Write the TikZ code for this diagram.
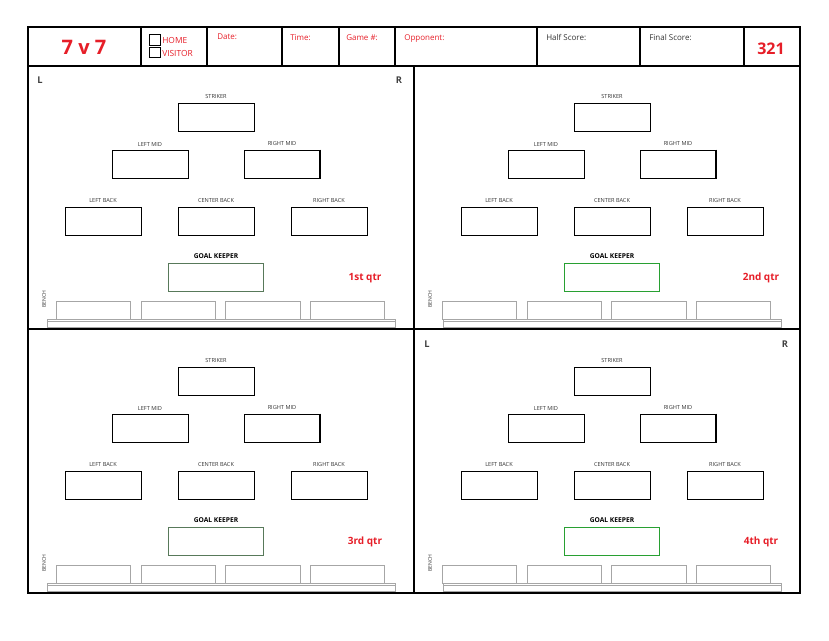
\documentclass[tikz,border=0pt]{standalone}
\usepackage{fontspec}
\setmainfont{Open Sans}
\usetikzlibrary{positioning}
\definecolor{formred}{RGB}{230,30,40}
\definecolor{keepgreen}{RGB}{40,160,50}
\tikzset{
  slot/.style={draw, line width=0.6pt, minimum width=57pt, minimum height=21pt, inner sep=0pt},
  benchslot/.style={draw=black!35, line width=0.6pt, minimum width=56pt, minimum height=13.5pt, inner sep=0pt},
  poslabel/.style={font=\fontsize{4.2}{5}\selectfont, text=black!80, inner sep=0pt},
  head/.style={font=\fontsize{6}{7}\selectfont, text=formred, anchor=north west, inner sep=0pt},
}
% one quarter: #1 x shift, #2 y shift, #3 prefix, #4 label, #5 keeper colour, #6 bench shift, #7 bench base start
\newcommand{\quarterfield}[7]{
  \begin{scope}[shift={(#1,#2)}]
    \node[slot] (#3st) at (216,117) {};
    \node[slot] (#3lm) at (150,164) {};
    \node[slot] (#3rm) at (282,164) {};
    \node[slot] (#3lb) at (103,221) {};
    \node[slot] (#3cb) at (216,221) {};
    \node[slot] (#3rb) at (329,221) {};
    \node[slot, draw=#5, minimum width=71pt] (#3gk) at (216,277) {};
    \draw[line width=1.4pt] (#3rm.north east) -- (#3rm.south east);
    \node[poslabel, above=2.5pt of #3st] {STRIKER};
    \node[poslabel, above=2.5pt of #3lm] {LEFT MID};
    \node[poslabel, above=2.5pt of #3rm] {RIGHT MID};
    \node[poslabel, above=2.5pt of #3lb] {LEFT BACK};
    \node[poslabel, above=2.5pt of #3cb] {CENTER BACK};
    \node[poslabel, above=2.5pt of #3rb] {RIGHT BACK};
    \node[poslabel, above=2.5pt of #3gk, font=\fontsize{5}{6}\selectfont\bfseries, text=black] {GOAL KEEPER};
    \node[font=\fontsize{7.5}{8}\selectfont\bfseries, text=formred] (#3qtr) at (365,278) {#4};
  \end{scope}
  \begin{scope}[shift={(#1+#6,#2)}]
    \foreach \bx [count=\i] in {93.5,178.5,263,347.5}
      \node[benchslot] (#3b\i) at (\bx,310) {};
    \draw[black!35, line width=0.6pt] (#7,319) rectangle (395,327);
    \draw[black!35, line width=0.6pt] (#7,321) -- (395,321);
    \node[poslabel, rotate=90, font=\fontsize{3.8}{4}\selectfont] (#3bench) at (44,299) {BENCH};
  \end{scope}
}
\begin{document}
\begin{tikzpicture}[x=0.75pt, y=-0.75pt]
  \useasboundingbox (0,0) rectangle (829,640);
  % header
  \draw[line width=1.2pt] (28,27) rectangle (800,593);
  \draw[line width=1.2pt] (28,66) -- (800,66);
  \foreach \hx in {141,207,282,339,395,537,640,744}
    \draw[line width=1.2pt] (\hx,27) -- (\hx,66);
  \draw[line width=1.2pt] (414,66) -- (414,593);
  \draw[line width=1.2pt] (28,329) -- (800,329);
  \node[font=\fontsize{15}{16}\selectfont\bfseries, text=formred] (title) at (84,47) {7 v 7};
  \node[draw, line width=0.8pt, minimum size=8pt, inner sep=0pt] (homebox) at (155,40) {};
  \node[draw, line width=0.8pt, minimum size=8pt, inner sep=0pt] (visbox) at (155,52.5) {};
  \node[head, anchor=west, font=\fontsize{6.3}{7}\selectfont] (home) at (162,40.5) {HOME};
  \node[head, anchor=west, font=\fontsize{6.3}{7}\selectfont] (visitor) at (162,53) {VISITOR};
  \node[head] (date) at (217,34) {Date:};
  \node[head] (time) at (290,34) {Time:};
  \node[head] (game) at (346,34) {Game \#:};
  \node[head] (opp) at (404,34) {Opponent:};
  \node[head, text=black!80] (half) at (546,34) {Half Score:};
  \node[head, text=black!80] (final) at (649,34) {Final Score:};
  \node[font=\fontsize{12}{13}\selectfont\bfseries, text=formred] (code) at (771,49) {321};
  % quarters
  \quarterfield{0}{0}{qa}{1st qtr}{keepgreen!40!black!70}{0}{47}
  \quarterfield{396}{0}{qb}{2nd qtr}{keepgreen}{-10}{57}
  \quarterfield{0}{264}{qc}{3rd qtr}{keepgreen!40!black!70}{0}{47}
  \quarterfield{396}{264}{qd}{4th qtr}{keepgreen}{-10}{57}
  \node[font=\fontsize{7}{8}\selectfont\bfseries, text=black!75] (l1) at (40,80) {L};
  \node[font=\fontsize{7}{8}\selectfont\bfseries, text=black!75] (r1) at (399,80) {R};
  \node[font=\fontsize{7}{8}\selectfont\bfseries, text=black!75] (l4) at (427,344) {L};
  \node[font=\fontsize{7}{8}\selectfont\bfseries, text=black!75] (r4) at (785,344) {R};
\end{tikzpicture}
\end{document}
